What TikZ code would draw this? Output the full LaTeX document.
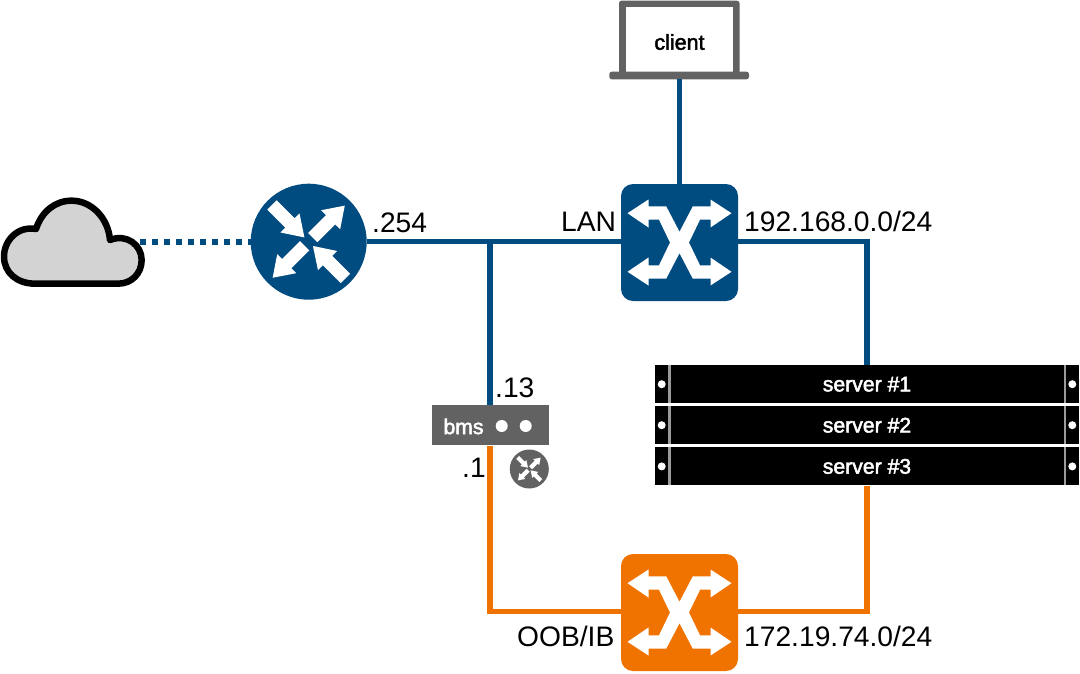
\documentclass[tikz,border=0pt]{standalone}
\usepackage{fontspec}
\setmainfont{Liberation Sans}
\newfontfamily\medfont[RawFeature={embolden=2.2}]{Liberation Sans}
\definecolor{netblue}{HTML}{004B80}
\definecolor{netorange}{HTML}{F07300}
\definecolor{devgray}{HTML}{626262}
\definecolor{cloudgray}{HTML}{D3D3D3}
\definecolor{rackline}{HTML}{9A9A9A}
\newcommand{\swglyph}[1]{%
  \fill[white,shift={(#1)}] (0,-10.7)--(13.3,-36.2)--(31,-36.2)--(31,-43)--(52,-29.3)--(31,-15)--(31,-22.8)--(20.5,-22.8)--(9.5,0)--(20.5,22.8)--(31,22.8)--(31,15)--(52,29.3)--(31,43)--(31,36.2)--(13.3,36.2)--(0,10.7)--(-13.3,36.2)--(-31,36.2)--(-31,43)--(-52,29.3)--(-31,15)--(-31,22.8)--(-20.5,22.8)--(-9.5,0)--(-20.5,-22.8)--(-31,-22.8)--(-31,-15)--(-52,-29.3)--(-31,-43)--(-31,-36.2)--(-13.3,-36.2)--cycle;}
\newcommand{\rtout}{(5.7,-6.6)--(31,-6.6)--(31,-13.5)--(51,0)--(31,13.5)--(31,6.6)--(5.7,6.6)--cycle}
\newcommand{\rtin}{(52,-6.6)--(26.6,-6.6)--(26.6,-13.5)--(6,0)--(26.6,13.5)--(26.6,6.6)--(52,6.6)--cycle}
\newcommand{\rtglyph}[2]{%
  \begin{scope}[shift={(#1)},scale=#2]
    \fill[white,rotate=45] \rtout;
    \fill[white,rotate=225] \rtout;
    \fill[white,rotate=135] \rtin;
    \fill[white,rotate=-45] \rtin;
  \end{scope}}
\tikzset{
  x=1pt,y=-1pt,
  switchbox/.style={rectangle,rounded corners=12pt,minimum size=117pt,inner sep=0pt,fill=#1},
  routerdisc/.style={circle,inner sep=0pt,fill=#1},
  bluelink/.style={draw=netblue,line width=5.4pt},
  orangelink/.style={draw=netorange,line width=5.4pt},
  dotlink/.style={draw=netblue,line width=6pt,dash pattern=on 6pt off 6pt},
  netlabel/.style={anchor=base west,inner sep=0pt,font=\fontsize{28.2}{30}\selectfont,text=black},
  serverbox/.style={rectangle,fill=black,inner sep=0pt,minimum width=424pt,minimum height=38pt,text=white,font=\medfont\fontsize{21.2}{24}\selectfont},
}
\begin{document}
\begin{tikzpicture}
\useasboundingbox (0,0) rectangle (1080,673);
\fill[white] (0,0) rectangle (1080,673);

% laptop
\fill[devgray,rounded corners=2.5pt] (619,0.7) rectangle (739.5,74);
\fill[white] (625.7,7.3) rectangle (733.3,72);
\fill[devgray,rounded corners=2.5pt] (609.3,71.7) rectangle (749,79.3);
\node[inner sep=0pt,font=\medfont\fontsize{21.5}{24}\selectfont] (client) at (679.5,42) {client};
\coordinate (clientport) at (679.5,79);

% switches
\node[switchbox=netblue] (lan) at (679.5,242.5) {};
\swglyph{679.5,242.5}
\node[switchbox=netorange] (oob) at (679.5,612.5) {};
\swglyph{679.5,612.5}

% router
\node[routerdisc=netblue,minimum size=116pt] (router) at (308.7,241.7) {};
\rtglyph{308.7,241.7}{1}

% cloud
\begin{scope}[x=0.3333pt,y=-0.3333pt,shift={(0pt,-185pt)}]
\path[fill=cloudgray,draw=black,line width=6.5pt,line join=round]
  (105,296) .. controls (50,296) and (12,262) .. (12,215)
  .. controls (12,165) and (55,122) .. (108,132)
  .. controls (125,80) and (165,47) .. (215,47)
  .. controls (275,47) and (325,100) .. (330,165)
  .. controls (380,145) and (425,180) .. (425,225)
  .. controls (425,265) and (395,296) .. (355,296) -- cycle;
\end{scope}
\coordinate (cloudport) at (140,241.5);

% bms
\node[rectangle,fill=devgray,inner sep=0pt,minimum width=117.6pt,minimum height=40.3pt] (bms) at (490.5,425.2) {};
\node[inner sep=0pt,text=white,font=\medfont\fontsize{21.2}{24}\selectfont] (bmslabel) at (463.5,426.5) {bms};
\fill[white] (501.7,426) circle (6);
\fill[white] (525.7,426) circle (6);
\node[routerdisc=devgray,minimum size=39pt] (bmsrouter) at (529.3,469) {};
\rtglyph{529.3,469}{0.315}

% servers
\node[serverbox] (srvone) at (867,384.2) {server \#1};
\node[serverbox] (srvtwo) at (867,425.2) {server \#2};
\node[serverbox] (srvthree) at (867,466.4) {server \#3};
\foreach \yy in {384.2,425.2,466.4}{
  \fill[rackline] (668.3,\yy-19) rectangle (670.5,\yy+19);
  \fill[rackline] (1063.7,\yy-19) rectangle (1065.9,\yy+19);
  \fill[white] (661.7,\yy) circle (4);
  \fill[white] (1072.3,\yy) circle (4);
}

% connectors
\coordinate (tee) at (490,241.5);
\draw[bluelink] (router.east |- tee) -- (lan.west |- tee);
\draw[bluelink] (clientport) -- (lan.north -| clientport);
\draw[bluelink] (tee) -- (bms.north -| tee);
\draw[bluelink] (lan.east |- tee) -| (srvone.north);
\draw[dotlink] (cloudport) -- (router.west |- cloudport);
\draw[orangelink] (bms.south -| tee) |- (oob.west |- 0,611.5);
\draw[orangelink] (oob.east |- 0,611.5) -| (srvthree.south);

% labels
\node[netlabel] (l254) at (372,232) {.254};
\node[netlabel] (llan) at (561,231) {LAN};
\node[netlabel] (lnet) at (744,231) {192.168.0.0/24};
\node[netlabel] (l13) at (495,397) {.13};
\node[netlabel] (l1) at (462,477) {.1};
\node[netlabel] (loob) at (517,646) {OOB/IB};
\node[netlabel] (lnetb) at (744,646) {172.19.74.0/24};
\end{tikzpicture}
\end{document}
